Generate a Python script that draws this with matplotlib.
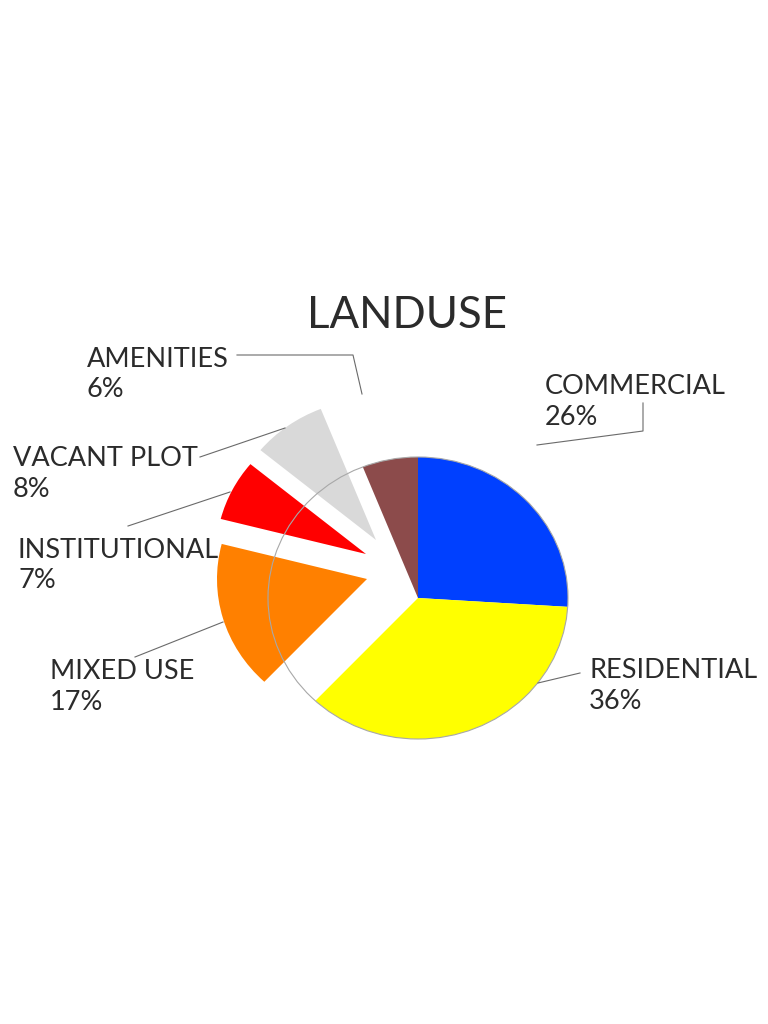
import matplotlib
matplotlib.use('Agg')
import matplotlib.pyplot as plt
from matplotlib.patches import Ellipse

# ---- data ----
categories = ['COMMERCIAL', 'RESIDENTIAL', 'MIXED USE', 'INSTITUTIONAL', 'VACANT PLOT', 'AMENITIES']
shares = [26, 36, 17, 7, 8, 6]
colors = ['#0040FF', '#FFFF00', '#FF8000', '#FF0000', '#D9D9D9', '#8C4B4B']
title = 'LANDUSE'

# ---- layout (pixel space) ----
W, H = 768, 1024
SY = 0.94                      # vertical squash of the drawing
CX, CY = 418, 598              # pie centre (px)
R = 150
apex_px = {2: (367, 579), 3: (366, 554), 4: (376, 540)}   # moved-out wedges

label_pos = {   # x, baseline of first line, baseline of second line (px)
    'AMENITIES': (87, 367, 397),
    'COMMERCIAL': (545, 394, 425),
    'RESIDENTIAL': (589, 678, 709),
    'VACANT PLOT': (13, 466, 497),
    'INSTITUTIONAL': (18, 558, 588),
    'MIXED USE': (50, 679, 710),
}
leaders = {
    'AMENITIES': [(237, 355), (353, 355), (362, 394)],
    'COMMERCIAL': [(643, 403), (643, 431), (537, 445)],
    'VACANT PLOT': [(200, 457), (285, 428)],
    'INSTITUTIONAL': [(128, 526), (230, 492)],
    'MIXED USE': [(135, 657), (223, 622)],
    'RESIDENTIAL': [(580, 673), (538, 683)],
}

def to_data(px, py):
    return px, (H - py) / SY

fig = plt.figure(figsize=(W / 100, H / 100), dpi=100)
ax = fig.add_axes([0, 0, 1, 1])
centre = to_data(CX, CY)
wedges, _ = ax.pie(shares, colors=colors, startangle=90, counterclock=False,
                   radius=R, center=centre, frame=True,
                   wedgeprops=dict(linewidth=0, antialiased=True))
for i, (px, py) in apex_px.items():
    wedges[i].set_center(to_data(px, py))
ax.add_patch(Ellipse(centre, 2 * R, 2 * R, fill=False, edgecolor='#a8a8a8',
                     linewidth=0.8, zorder=5))
ax.set_xlim(0, W)
ax.set_ylim(0, H / SY)
ax.set_aspect('auto')
ax.axis('off')

# overlay in pixel coordinates for text and leader lines
ax2 = fig.add_axes([0, 0, 1, 1], facecolor='none')
ax2.set_xlim(0, W)
ax2.set_ylim(H, 0)
ax2.axis('off')

font = dict(family=['Lato', 'DejaVu Sans'], fontweight='normal', color='#2b2b2b')
ax2.text(407, 328, title, ha='center', va='baseline', fontsize=31.5, **font)
for cat, val in zip(categories, shares):
    x, b1, b2 = label_pos[cat]
    ax2.text(x, b1, cat, ha='left', va='baseline', fontsize=19.5, **font)
    ax2.text(x, b2, f'{val}%', ha='left', va='baseline', fontsize=19.5, **font)
    pts = leaders[cat]
    ax2.plot([p[0] for p in pts], [p[1] for p in pts], color='#6a6a6a', lw=0.8)

fig.savefig('out.png', dpi=100, facecolor='white')
